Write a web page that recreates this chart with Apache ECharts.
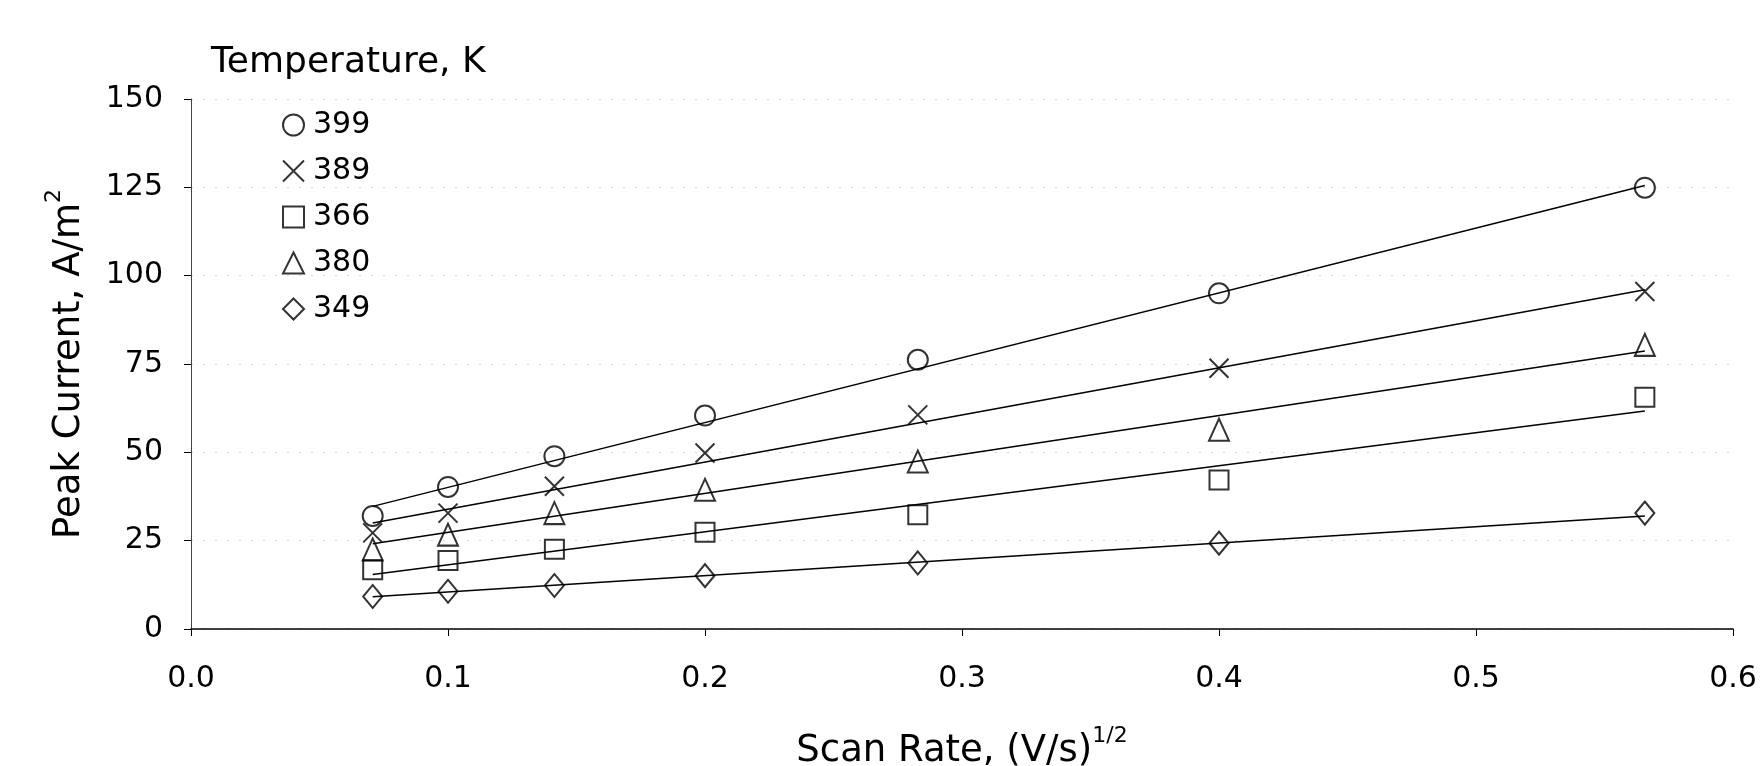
<!DOCTYPE html>
<html>
<head>
<meta charset="utf-8">
<title>Peak Current vs Scan Rate</title>
<script src="https://cdn.jsdelivr.net/npm/echarts@6/dist/echarts.min.js"></script>
<style>
    html, body { margin: 0; padding: 0; background: #fff; }
    #chart { width: 1763px; height: 766px; }
</style>
</head>
<body>
<div id="chart"></div>
<script>
// 扫描速率 (V/s)^1/2
let scan_rate = [0.0707, 0.1, 0.1414, 0.2, 0.2828, 0.4, 0.5657];

// 各温度下的峰值电流 A/m2
let temp_names = ['399', '389', '366', '380', '349'];
let current_399 = [32.0, 40.2, 48.9, 60.4, 76.2, 95.0, 124.9];
let current_389 = [27.2, 32.8, 40.4, 49.8, 60.6, 73.8, 95.5];
let current_366 = [16.8, 19.4, 22.6, 27.4, 32.3, 42.2, 65.6];
let current_380 = [22.5, 26.7, 32.8, 39.4, 47.4, 56.4, 80.4];
let current_349 = [9.2, 10.7, 12.3, 15.1, 18.7, 24.3, 32.8];

// 趋势线两端
let fit_x = [0.0707, 0.5657];
let fit_399 = [34.7, 125.5];
let fit_389 = [30.0, 96.0];
let fit_366 = [15.4, 61.7];
let fit_380 = [24.1, 78.7];
let fit_349 = [9.1, 32.0];

let x_ticks = ['0.0', '0.1', '0.2', '0.3', '0.4', '0.5', '0.6'];

let font = 'DejaVu Sans';
let symbols = ['circle', 'path://M0,0L10,10M10,0L0,10', 'rect', 'triangle', 'diamond'];
let symbol_sizes = [20, 19, 19, [20, 22], [19, 23]];

function to_points(xs, ys) {
    let points = [];
    for (let i = 0; i < xs.length; i++) {
        points.push([xs[i], ys[i]]);
    }
    return points;
}

function build_series() {
    let currents = [current_399, current_389, current_366, current_380, current_349];
    let fits = [fit_399, fit_389, fit_366, fit_380, fit_349];
    let series = [];
    for (let i = 0; i < temp_names.length; i++) {
        series.push({
            name: temp_names[i] + ' fit',
            type: 'line',
            data: to_points(fit_x, fits[i]),
            symbol: 'none',
            silent: true,
            lineStyle: {color: '#000', width: 1.5},
            z: 2
        });
    }
    for (let i = 0; i < temp_names.length; i++) {
        series.push({
            name: temp_names[i],
            type: 'scatter',
            data: to_points(scan_rate, currents[i]),
            symbol: symbols[i],
            symbolSize: symbol_sizes[i],
            itemStyle: {color: 'rgba(0,0,0,0)', borderColor: '#000', borderWidth: 2},
            z: 3
        });
    }
    return series;
}

// 坐标轴标题用的上标样式
let name_rich = {
    a: {fontFamily: font, fontSize: 37, lineHeight: 52, color: '#000'},
    sup: {fontFamily: font, fontSize: 22, lineHeight: 22, verticalAlign: 'top', color: '#000'}
};

let chart = echarts.init(document.getElementById('chart'));

let option = {
    backgroundColor: '#fff',
    animation: false,
    textStyle: {fontFamily: font, color: '#000'},
    title: {
        text: 'Temperature, K',
        left: 211,
        top: 45,
        padding: 0,
        textStyle: {fontFamily: font, fontSize: 36, fontWeight: 'normal', color: '#000'}
    },
    legend: {
        data: temp_names,
        orient: 'vertical',
        left: 282,
        top: 110,
        padding: 0,
        itemGap: 16,
        itemWidth: 21,
        itemHeight: 21,
        textStyle: {fontFamily: font, fontSize: 30, lineHeight: 30, color: '#000', padding: [0, 0, 0, 4]}
    },
    grid: {left: 191, right: 30, top: 99, bottom: 137, outerBoundsMode: 'none'},
    xAxis: {
        type: 'value',
        min: 0,
        max: 0.6,
        interval: 0.1,
        name: '{a|Scan Rate, (V/s)}{sup|1/2}',
        nameLocation: 'middle',
        nameGap: 96,
        nameTextStyle: {rich: name_rich},
        axisLine: {lineStyle: {color: '#000', width: 1.5}},
        axisTick: {show: true, length: 7, lineStyle: {color: '#000'}},
        axisLabel: {
            margin: 35,
            fontSize: 30,
            fontFamily: font,
            color: '#000',
            formatter: function (v) {
                return x_ticks[Math.round(v * 10)];
            }
        },
        splitLine: {show: false}
    },
    yAxis: {
        type: 'value',
        min: 0,
        max: 150,
        interval: 25,
        name: '{a|Peak Current, A/m}{sup|2}',
        nameLocation: 'middle',
        nameGap: 96,
        nameTextStyle: {rich: name_rich},
        axisLine: {show: true, lineStyle: {color: '#444', width: 1}},
        axisTick: {show: true, length: 7, lineStyle: {color: '#000'}},
        axisLabel: {margin: 28, fontSize: 30, fontFamily: font, color: '#000'},
        splitLine: {show: true, lineStyle: {color: '#d4d4d4', width: 1, type: [2, 10]}}
    },
    series: build_series()
};

chart.setOption(option);
</script>
</body>
</html>
